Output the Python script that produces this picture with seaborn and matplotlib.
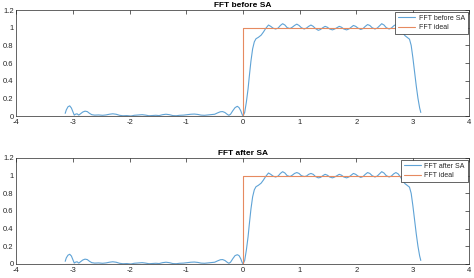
import matplotlib
matplotlib.use("Agg")
import numpy as np
import pandas as pd
import seaborn as sns
import matplotlib.pyplot as plt
from matplotlib.ticker import FormatStrFormatter

# ---------------- data ----------------
freq = [-3.14, -3.12, -3.09, -3.06, -3.03, -3.00, -2.98, -2.96, -2.93, -2.90,
        -2.87, -2.83, -2.79, -2.75, -2.71, -2.67, -2.62, -2.55, -2.48, -2.42,
        -2.36, -2.30, -2.24, -2.18, -2.12, -2.05, -1.98, -1.92, -1.85, -1.78,
        -1.72, -1.66, -1.60, -1.54, -1.48, -1.42, -1.36, -1.30, -1.24, -1.18,
        -1.12, -1.05, -0.98, -0.92, -0.86, -0.80, -0.74, -0.68, -0.62, -0.56,
        -0.50, -0.45, -0.40, -0.36, -0.32, -0.28, -0.25, -0.22, -0.18, -0.14,
        -0.10, -0.07, -0.04, -0.02, 0.00, 0.03, 0.06, 0.09, 0.11, 0.14,
        0.17, 0.20, 0.23, 0.27, 0.32, 0.36, 0.40, 0.45, 0.49, 0.53,
        0.575, 0.62, 0.66, 0.70, 0.74, 0.78, 0.83, 0.87, 0.91, 0.95,
        0.99, 1.03, 1.08, 1.12, 1.16, 1.20, 1.24, 1.28, 1.33, 1.37,
        1.41, 1.45, 1.49, 1.53, 1.58, 1.62, 1.66, 1.70, 1.74, 1.78,
        1.83, 1.87, 1.91, 1.95, 1.99, 2.03, 2.08, 2.12, 2.16, 2.20,
        2.24, 2.28, 2.33, 2.37, 2.41, 2.45, 2.49, 2.53, 2.58, 2.62,
        2.66, 2.70, 2.74, 2.78, 2.82, 2.86, 2.90, 2.94, 2.97, 3.00,
        3.03, 3.06, 3.09, 3.12, 3.14]

mag_before = [0.03, 0.07, 0.105, 0.115, 0.09, 0.04, 0.01, 0.02, 0.025, 0.01,
              0.025, 0.045, 0.055, 0.05, 0.03, 0.015, 0.01, 0.012, 0.008, 0.012,
              0.02, 0.025, 0.02, 0.008, 0.003, 0.005, 0.0, 0.008, 0.012, 0.015,
              0.01, 0.003, 0.005, 0.008, 0.005, 0.015, 0.02, 0.015, 0.005, 0.003,
              0.008, 0.01, 0.015, 0.02, 0.022, 0.018, 0.01, 0.008, 0.012, 0.015,
              0.02, 0.035, 0.048, 0.05, 0.04, 0.02, 0.008, 0.02, 0.06, 0.095,
              0.11, 0.095, 0.06, 0.025, 0.0, 0.04, 0.16, 0.31, 0.44, 0.62,
              0.76, 0.84, 0.875, 0.89, 0.915, 0.95, 0.99, 1.03, 1.015, 0.995,
              0.985, 0.995, 1.025, 1.045, 1.03, 1.00, 0.99, 1.005, 1.025, 1.04,
              1.025, 1.00, 0.985, 0.995, 1.015, 1.03, 1.015, 0.99, 0.97, 0.98,
              1.00, 1.015, 1.005, 0.985, 0.975, 0.985, 1.00, 1.015, 1.005, 0.985,
              0.975, 0.985, 1.005, 1.025, 1.015, 0.995, 0.98, 0.99, 1.015, 1.035,
              1.025, 1.00, 0.985, 0.995, 1.02, 1.045, 1.03, 1.00, 0.985, 0.995,
              1.02, 1.035, 1.02, 0.985, 0.945, 0.91, 0.89, 0.87, 0.80, 0.66,
              0.50, 0.34, 0.20, 0.09, 0.04]

mag_after = [0.03, 0.07, 0.10, 0.11, 0.09, 0.04, 0.01, 0.02, 0.025, 0.01,
             0.025, 0.045, 0.055, 0.05, 0.03, 0.015, 0.01, 0.012, 0.008, 0.012,
             0.02, 0.025, 0.02, 0.008, 0.003, 0.005, 0.0, 0.008, 0.012, 0.015,
             0.01, 0.003, 0.005, 0.008, 0.005, 0.015, 0.02, 0.015, 0.005, 0.003,
             0.008, 0.01, 0.015, 0.02, 0.022, 0.018, 0.01, 0.008, 0.012, 0.015,
             0.02, 0.035, 0.048, 0.05, 0.04, 0.02, 0.008, 0.02, 0.06, 0.095,
             0.105, 0.095, 0.06, 0.025, 0.0, 0.04, 0.16, 0.31, 0.44, 0.62,
             0.76, 0.84, 0.875, 0.89, 0.915, 0.95, 0.99, 1.03, 1.015, 0.995,
             0.985, 0.995, 1.025, 1.045, 1.03, 1.00, 0.99, 1.005, 1.025, 1.035,
             1.025, 1.00, 0.99, 0.995, 1.015, 1.025, 1.015, 0.99, 0.975, 0.98,
             1.00, 1.015, 1.005, 0.985, 0.975, 0.985, 1.00, 1.015, 1.005, 0.985,
             0.975, 0.985, 1.005, 1.025, 1.015, 0.995, 0.98, 0.99, 1.015, 1.035,
             1.025, 1.00, 0.985, 0.995, 1.02, 1.045, 1.03, 1.00, 0.985, 0.995,
             1.02, 1.035, 1.02, 0.985, 0.945, 0.91, 0.89, 0.87, 0.80, 0.66,
             0.50, 0.34, 0.20, 0.09, 0.04]

ideal_freq = [-3.14, 0.0, 0.0, 3.14]
ideal_mag = [0.0, 0.0, 1.0, 1.0]

titles = ["FFT before SA", "FFT after SA"]
series_labels = ["FFT before SA", "FFT after SA"]
ideal_label = "FFT ideal"
x_ticks = [-4, -3, -2, -1, 0, 1, 2, 3, 4]
y_ticks = [0, 0.2, 0.4, 0.6, 0.8, 1.0, 1.2]

# ---------------- style ----------------
sns.set_theme(style="white")
plt.rcParams['font.family'] = ['Liberation Sans', 'DejaVu Sans']
plt.rcParams['axes.unicode_minus'] = False
dark = '#262626'
blue = '#5fa3d6'
orange = '#e68a60'

fig = plt.figure(figsize=(4.74, 2.78), dpi=100)
fig.patch.set_facecolor('white')
axes = [fig.add_axes([0.0348, 0.5827, 0.9557, 0.3813]),
        fig.add_axes([0.0348, 0.0504, 0.9557, 0.3813])]

for ax, mag, title, lab in zip(axes, [mag_before, mag_after], titles, series_labels):
    df = pd.DataFrame({"freq": freq, "mag": mag})
    dfi = pd.DataFrame({"freq": ideal_freq, "mag": ideal_mag})
    sns.lineplot(data=df, x="freq", y="mag", ax=ax, color=blue, linewidth=0.8,
                 sort=False, estimator=None, label=lab)
    sns.lineplot(data=dfi, x="freq", y="mag", ax=ax, color=orange, linewidth=0.8,
                 sort=False, estimator=None, label=ideal_label)
    ax.set_xlim(-4, 4)
    ax.set_ylim(0, 1.2)
    ax.set_xticks(x_ticks)
    ax.set_yticks(y_ticks)
    ax.yaxis.set_major_formatter(FormatStrFormatter('%g'))
    ax.set_xlabel("")
    ax.set_ylabel("")
    ax.set_facecolor('white')
    for s in ax.spines.values():
        s.set_visible(True)
        s.set_color(dark)
        s.set_linewidth(0.5)
    ax.tick_params(direction='in', top=True, right=True, length=3, width=0.5,
                   labelsize=5.5, pad=2, colors=dark)
    ax.set_title(title, fontsize=6, fontweight='bold', pad=2.5, color='black')
    leg = ax.legend(loc='upper right', fontsize=5, frameon=True, fancybox=False,
                    edgecolor=dark, handlelength=2.4, borderpad=0.45,
                    labelspacing=0.35, handletextpad=0.5, borderaxespad=0.25,
                    framealpha=1)
    leg.get_frame().set_linewidth(0.5)

fig.savefig("out.png", dpi=100, facecolor='white')
